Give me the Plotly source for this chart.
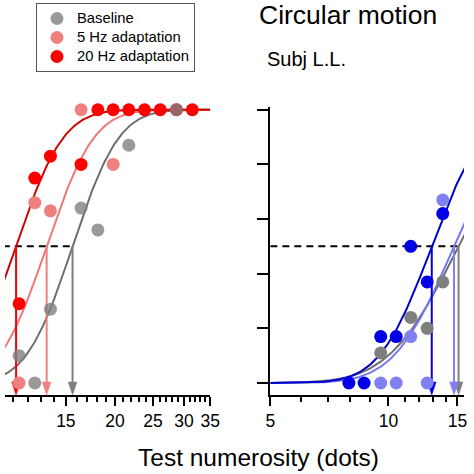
import numpy as np
import plotly.graph_objects as go
from math import erf, sqrt, log10

FONT = "Liberation Sans"

# ---------------- data ----------------
# Left panel (red series)
L_base_x = [10.4, 11.4, 12.5, 13.7, 16.4, 18.1, 21.7, 28.7]
L_base_y = [0.0, 0.10, 0.0, 0.27, 0.64, 0.56, 0.87, 1.0]
L_5hz_x = [10.4, 11.4, 12.5, 13.7, 16.4, 19.8]
L_5hz_y = [0.25, 0.0, 0.66, 0.63, 1.0, 0.80]
L_20hz_x = [10.4, 11.4, 12.5, 13.7, 16.4, 18.1, 19.8, 21.7, 23.8, 26.1, 28.7, 31.5]
L_20hz_y = [0.45, 0.29, 0.75, 0.83, 0.80, 1.0, 1.0, 1.0, 1.0, 1.0, 1.0, 1.0]
# fitted cumulative-Gaussian parameters (PSE in dots, width in log10 units)
L_pse = {"base": 15.6, "5hz": 13.4, "20hz": 11.2}
L_sig = {"base": 0.093, "5hz": 0.095, "20hz": 0.095}

# Right panel (blue series)
R_base_x = [9.56, 11.4, 12.56, 13.76]
R_base_y = [0.11, 0.24, 0.20, 0.37]
R_5hz_x = [9.56, 10.47, 11.4, 12.56, 13.76]
R_5hz_y = [0.0, 0.0, 0.17, 0.0, 0.67]
R_20hz_x = [7.93, 8.67, 9.56, 10.47, 11.4, 12.56, 13.76]
R_20hz_y = [0.0, 0.0, 0.17, 0.17, 0.50, 0.37, 0.62]
R_pse = {"base": 15.1, "5hz": 14.7, "20hz": 12.9}
R_sig = {"base": 0.14, "5hz": 0.12, "20hz": 0.105}

L_major = [10, 15, 20, 25, 30, 35]
L_minor = [v for v in range(10, 36) if v not in L_major]
R_major = [5, 10, 15, 20]
R_minor = [v for v in range(5, 21) if v not in R_major]
y_ticks = [0, 0.2, 0.4, 0.6, 0.8, 1.0]

labels = {"base": "Baseline", "5hz": "5 Hz adaptation", "20hz": "20 Hz adaptation"}
col_L = {"base": "#7f7f7f", "5hz": "#f08080", "20hz": "#ff0000"}
line_L = {"base": "#6e6e6e", "5hz": "#f07878", "20hz": "#d00000"}
col_R = {"base": "#7f7f7f", "5hz": "#8080f0", "20hz": "#0000e6"}
line_R = {"base": "#6e6e6e", "5hz": "#7878ee", "20hz": "#0000cc"}

Y_BOTTOM = -0.044
W = 474.0
PLOT_TOP = 107.0
PLOT_BOT = 395.0
PH = PLOT_BOT - PLOT_TOP
PX_PER_Y = PH / (1.01 - Y_BOTTOM)
PX_PER_DEC = 405.0
HEAD_LEN = 13.0   # px
HEAD_HALF = 4.5   # px


def cumgauss(xs, pse, sig):
    return [0.5 * (1 + erf((log10(x) - log10(pse)) / (sig * sqrt(2)))) for x in xs]


fig = go.Figure()

# dashed 50% lines
fig.add_trace(go.Scatter(x=[9.0, L_pse["base"]], y=[0.5, 0.5], mode="lines",
                         line=dict(color="black", width=2, dash="7px,5px"),
                         showlegend=False, xaxis="x", yaxis="y", hoverinfo="skip"))
fig.add_trace(go.Scatter(x=[5, R_pse["base"]], y=[0.5, 0.5], mode="lines",
                         line=dict(color="black", width=2, dash="7px,5px"),
                         showlegend=False, xaxis="x2", yaxis="y2", hoverinfo="skip"))

# curves
xsL = np.logspace(log10(9.5), log10(35), 200)
xsR = np.logspace(log10(5), log10(17), 200)
for k in ["base", "5hz", "20hz"]:
    fig.add_trace(go.Scatter(x=xsL, y=cumgauss(xsL, L_pse[k], L_sig[k]), mode="lines",
                             line=dict(color=line_L[k], width=2), showlegend=False,
                             xaxis="x", yaxis="y", hoverinfo="skip"))
    fig.add_trace(go.Scatter(x=xsR, y=cumgauss(xsR, R_pse[k], R_sig[k]), mode="lines",
                             line=dict(color=line_R[k], width=2), showlegend=False,
                             xaxis="x2", yaxis="y2", hoverinfo="skip"))

# PSE arrows (shaft + filled head)
for k in ["base", "5hz", "20hz"]:
    for pse, col, xa, ya in [(L_pse[k], col_L[k], "x", "y"), (R_pse[k], col_R[k], "x2", "y2")]:
        head_top = Y_BOTTOM + HEAD_LEN / PX_PER_Y
        fig.add_trace(go.Scatter(x=[pse, pse], y=[0.5, head_top], mode="lines",
                                 line=dict(color=col, width=2), showlegend=False,
                                 xaxis=xa, yaxis=ya, hoverinfo="skip"))
        f = 10 ** (HEAD_HALF / PX_PER_DEC)
        fig.add_trace(go.Scatter(x=[pse / f, pse * f, pse, pse / f],
                                 y=[head_top, head_top, Y_BOTTOM, head_top],
                                 mode="lines", fill="toself", fillcolor=col,
                                 line=dict(color=col, width=0.5), showlegend=False,
                                 xaxis=xa, yaxis=ya, hoverinfo="skip"))

# data points, left panel
left_data = {"5hz": (L_5hz_x, L_5hz_y), "20hz": (L_20hz_x, L_20hz_y), "base": (L_base_x, L_base_y)}
rank = {"base": 1, "5hz": 2, "20hz": 3}
for k in ["5hz", "20hz", "base"]:
    xs, ys = left_data[k]
    fig.add_trace(go.Scatter(x=xs, y=ys, mode="markers",
                             name='<span style="font-size:14.8px">' + labels[k] + '</span>',
                             marker=dict(size=13, color=col_L[k], line=dict(width=0),
                                         opacity=0.8 if k == "base" else 1.0),
                             cliponaxis=False, legendrank=rank[k],
                             xaxis="x", yaxis="y"))

right_data = {"base": (R_base_x, R_base_y), "5hz": (R_5hz_x, R_5hz_y), "20hz": (R_20hz_x, R_20hz_y)}
for k in ["base", "5hz", "20hz"]:
    xs, ys = right_data[k]
    fig.add_trace(go.Scatter(x=xs, y=ys, mode="markers", showlegend=False,
                             marker=dict(size=13, color=col_R[k], line=dict(width=0)),
                             cliponaxis=False, xaxis="x2", yaxis="y2"))


def py(px):
    return (PLOT_BOT - px) / PH


tickfont = dict(family=FONT, size=17.5, color="black")
fig.update_layout(
    width=474, height=474,
    margin=dict(l=0, r=0, t=PLOT_TOP, b=474 - PLOT_BOT, pad=0),
    paper_bgcolor="white", plot_bgcolor="white",
    font=dict(family=FONT, color="black"),
    showlegend=True,
    legend=dict(x=32 / W, y=py(3), xanchor="left", yanchor="top",
                bordercolor="#555555", borderwidth=1, bgcolor="white",
                font=dict(family=FONT, size=12, color="black"),
                tracegroupgap=0, itemsizing="trace"),
    xaxis=dict(type="log", domain=[0, 212 / W], range=[1.021, log10(35)],
               showline=True, linecolor="black", linewidth=2, showgrid=False, zeroline=False,
               tickmode="array", tickvals=L_major, ticktext=[str(v) for v in L_major],
               ticks="outside", ticklen=9, tickwidth=1.5, tickcolor="black", tickfont=tickfont,
               minor=dict(tickmode="array", tickvals=L_minor, ticks="outside", ticklen=5,
                          tickwidth=1.5, tickcolor="black", showgrid=False)),
    yaxis=dict(domain=[0, 1], range=[Y_BOTTOM, 1.01], visible=False),
    xaxis2=dict(type="log", domain=[274 / W, 1], range=[log10(5), log10(5) + 200 / PX_PER_DEC],
                anchor="y2",
                showline=True, linecolor="black", linewidth=2, showgrid=False, zeroline=False,
                tickmode="array", tickvals=R_major, ticktext=[str(v) for v in R_major],
                ticks="outside", ticklen=9, tickwidth=1.5, tickcolor="black", tickfont=tickfont,
                minor=dict(tickmode="array", tickvals=R_minor, ticks="outside", ticklen=5,
                           tickwidth=1.5, tickcolor="black", showgrid=False)),
    yaxis2=dict(domain=[0, 1], range=[Y_BOTTOM, 1.01], anchor="x2",
                showline=True, linecolor="black", linewidth=2, showgrid=False, zeroline=False,
                tickmode="array", tickvals=y_ticks, showticklabels=False,
                ticks="outside", ticklen=11, tickwidth=2, tickcolor="black"),
    annotations=[
        dict(text="Circular motion", x=354 / W, y=py(15), xref="paper", yref="paper",
             xanchor="center", yanchor="middle", showarrow=False,
             font=dict(family=FONT, size=26.5, color="black")),
        dict(text="Subj L.L.", x=268 / W, y=py(59), xref="paper", yref="paper",
             xanchor="left", yanchor="middle", showarrow=False,
             font=dict(family=FONT, size=20, color="black")),
        dict(text="Test numerosity (dots)", x=262 / W, y=py(457), xref="paper", yref="paper",
             xanchor="center", yanchor="middle", showarrow=False,
             font=dict(family=FONT, size=24.5, color="black")),
    ],
)

fig.write_html("out.html")
